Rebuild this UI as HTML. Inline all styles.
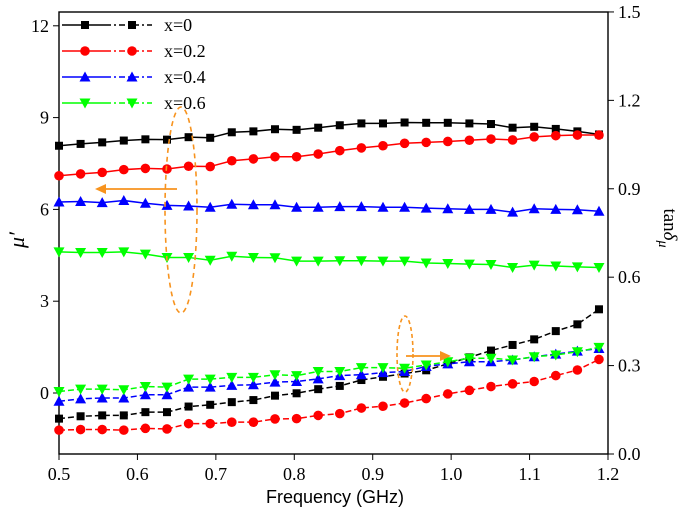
<!DOCTYPE html>
<html><head><meta charset="utf-8"><style>
body{margin:0;background:#fff}
text{font-family:"Liberation Serif",serif;font-size:18px}
</style></head><body>
<svg id="c" width="685" height="519" xmlns="http://www.w3.org/2000/svg"></svg>
<script>
const freqStart=0.5, freqStep=0.02754;
const xTicks=[0.5,0.6,0.7,0.8,0.9,1.0,1.1,1.2];
const leftTicks=[0,3,6,9,12];
const rightTicks=[0.0,0.3,0.6,0.9,1.2,1.5];
const labels=["x=0","x=0.2","x=0.4","x=0.6"];
const colors=["#000","#f00","#00f","#0f0"];
const mu0=[8.08,8.14,8.19,8.25,8.29,8.28,8.36,8.34,8.52,8.55,8.62,8.60,8.67,8.75,8.81,8.81,8.84,8.83,8.83,8.81,8.79,8.67,8.70,8.63,8.55,8.45];
const mu2=[7.10,7.16,7.21,7.30,7.34,7.32,7.41,7.40,7.59,7.65,7.72,7.72,7.81,7.92,8.01,8.08,8.16,8.19,8.22,8.26,8.30,8.27,8.37,8.41,8.43,8.43];
const mu4=[6.24,6.26,6.22,6.29,6.20,6.13,6.11,6.07,6.17,6.15,6.15,6.07,6.07,6.09,6.09,6.07,6.07,6.04,6.02,6.00,6.00,5.91,6.02,6.00,5.99,5.94];
const mu6=[4.61,4.59,4.59,4.61,4.54,4.43,4.43,4.34,4.47,4.43,4.42,4.31,4.31,4.32,4.32,4.31,4.31,4.25,4.23,4.21,4.20,4.10,4.18,4.15,4.12,4.10];
const tan0=[0.120,0.128,0.131,0.131,0.142,0.142,0.161,0.167,0.176,0.183,0.198,0.206,0.220,0.231,0.251,0.262,0.273,0.284,0.306,0.328,0.351,0.370,0.389,0.417,0.440,0.491];
const tan2=[0.081,0.083,0.083,0.081,0.087,0.085,0.103,0.103,0.108,0.108,0.119,0.120,0.131,0.137,0.156,0.162,0.173,0.188,0.204,0.216,0.229,0.238,0.246,0.266,0.285,0.321];
const tan4=[0.179,0.187,0.190,0.190,0.201,0.201,0.227,0.227,0.233,0.235,0.244,0.246,0.255,0.266,0.269,0.276,0.280,0.297,0.306,0.313,0.313,0.319,0.330,0.339,0.349,0.358];
const tan6=[0.212,0.220,0.220,0.218,0.229,0.227,0.254,0.254,0.260,0.260,0.269,0.266,0.280,0.280,0.293,0.293,0.291,0.302,0.313,0.325,0.325,0.319,0.330,0.336,0.347,0.362];

const L=59,R=608,T=12,B=454;
const X=v=>L+(v-0.5)/0.7*(R-L);
const YL=v=>393-v*30.6;
const YR=v=>454-v*294.7;
const svg=document.getElementById('c');
const NS='http://www.w3.org/2000/svg';
function mk(tag,attrs,parent){const e=document.createElementNS(NS,tag);for(const k in attrs)e.setAttribute(k,attrs[k]);(parent||svg).appendChild(e);return e;}
function marker(kind,x,y,col,g){
  if(kind===0)return mk('rect',{x:x-4,y:y-4,width:8,height:8,fill:col},g);
  if(kind===1)return mk('circle',{cx:x,cy:y,r:4.8,fill:col},g);
  if(kind===2)return mk('polygon',{points:`${x},${y-5.5} ${x-5.5},${y+4.5} ${x+5.5},${y+4.5}`,fill:col},g);
  return mk('polygon',{points:`${x},${y+5.5} ${x-5.5},${y-4.5} ${x+5.5},${y-4.5}`,fill:col},g);
}
const ax=mk('g',{});


mk('rect',{x:L,y:T,width:R-L,height:B-T,fill:'none',stroke:'#000','stroke-width':1.4},ax);
xTicks.forEach(v=>{const x=X(v);mk('line',{x1:x,y1:B,x2:x,y2:B+6,stroke:'#000'},ax);
  const t=mk('text',{x:x,y:B+26,'text-anchor':'middle'},ax);t.textContent=v.toFixed(1);
  });
leftTicks.forEach(v=>{const y=YL(v);mk('line',{x1:L-6,y1:y,x2:L,y2:y,stroke:'#000'},ax);
  const t=mk('text',{x:L-10,y:y+6,'text-anchor':'end'},ax);t.textContent=v;
  });
rightTicks.forEach(v=>{const y=YR(v);mk('line',{x1:R,y1:y,x2:R+6,y2:y,stroke:'#000'},ax);
  const t=mk('text',{x:R+10,y:y+6},ax);t.textContent=v.toFixed(1);
  });
const muS=[mu0,mu2,mu4,mu6], tanS=[tan0,tan2,tan4,tan6];
for(let s=0;s<4;s++){
  const g=mk('g',{});
  
  
  const p1=muS[s].map((v,i)=>X(freqStart+i*freqStep)+','+YL(v)).join(' ');
  mk('polyline',{points:p1,fill:'none',stroke:colors[s],'stroke-width':1.5},g);
  muS[s].forEach((v,i)=>marker(s,X(freqStart+i*freqStep),YL(v),colors[s],g));
  const p2=tanS[s].map((v,i)=>X(freqStart+i*freqStep)+','+YR(v)).join(' ');
  mk('polyline',{points:p2,fill:'none',stroke:colors[s],'stroke-width':1.5,'stroke-dasharray':'6,3'},g);
  tanS[s].forEach((v,i)=>marker(s,X(freqStart+i*freqStep),YR(v),colors[s],g));
}
for(let s=0;s<4;s++){
  const y=25+s*26;
  const g=mk('g',{});
  
  
  mk('line',{x1:62,y1:y,x2:105,y2:y,stroke:colors[s],'stroke-width':1.5},g);
  mk('line',{x1:105,y1:y,x2:152,y2:y,stroke:colors[s],'stroke-width':1.5,'stroke-dasharray':'6,3,2,3'},g);
  marker(s,85,y,colors[s],g);marker(s,132,y,colors[s],g);
  const t=mk('text',{x:164,y:y+6},g);t.textContent=labels[s];
}
const an=mk('g',{});


mk('ellipse',{cx:181,cy:210,rx:16,ry:103,fill:'none',stroke:'#f7931e','stroke-width':1.6,'stroke-dasharray':'5,4'},an);
mk('line',{x1:177,y1:189,x2:104,y2:189,stroke:'#f7931e','stroke-width':1.8},an);
mk('polygon',{points:'95,189 106,184 106,194',fill:'#f7931e'},an);
mk('ellipse',{cx:405,cy:354,rx:8,ry:38,fill:'none',stroke:'#f7931e','stroke-width':1.6,'stroke-dasharray':'4,3'},an);
mk('line',{x1:406,y1:356,x2:442,y2:356,stroke:'#f7931e','stroke-width':1.8},an);
mk('polygon',{points:'451,356 440,351 440,361',fill:'#f7931e'},an);
const xt=mk('text',{x:335,y:503,'text-anchor':'middle',style:'font-family:Liberation Sans,sans-serif;font-size:18px'});
xt.textContent='Frequency (GHz)';

const yl=mk('text',{x:24,y:240,'text-anchor':'middle',transform:'rotate(-90 24 240)',style:'font-style:italic;font-size:22px'});
yl.textContent='μ′';

const yr=mk('text',{x:664,y:228,'text-anchor':'middle',transform:'rotate(90 664 228)',style:'font-size:19px'});
yr.innerHTML='tan<tspan font-style="italic">δ</tspan><tspan font-style="italic" font-size="14" dy="5">μ</tspan>';

</script>
</body></html>
